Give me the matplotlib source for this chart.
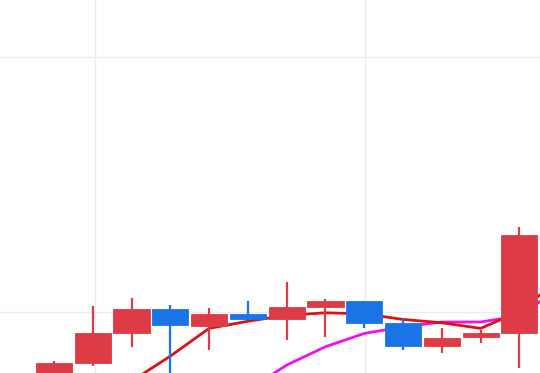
import numpy as np
import matplotlib.pyplot as plt

# candle data (index 0 is the leftmost candle in view)
opens = [3269.4, 3279.9, 3291.6, 3301.3, 3294.4, 3299.3, 3297.3,
         3301.8, 3304.2, 3295.6, 3286.7, 3290.1, 3291.6, 3305.9]
closes = [3279.9, 3291.6, 3301.2, 3294.8, 3299.3, 3297.1, 3301.8,
          3304.2, 3295.6, 3286.7, 3289.8, 3291.6, 3330.3, 3373.7]
highs = [3280.9, 3302.4, 3305.4, 3302.7, 3301.6, 3304.3, 3311.9,
         3305.0, 3304.3, 3297.8, 3293.6, 3292.9, 3333.2, 3377.3]
lows = [3267.5, 3278.8, 3286.4, 3265.5, 3285.1, 3296.9, 3289.0,
        3290.1, 3293.8, 3285.0, 3283.8, 3287.7, 3277.9, 3304.7]

ma_short = [np.nan, np.nan, 3272.9, 3282.7, 3293.6, 3296.4, 3298.7,
            3299.7, 3299.3, 3297.1, 3295.8, 3293.6, 3300.2, 3312.5]
ma_long = [np.nan, np.nan, np.nan, np.nan, np.nan, 3269.4, 3279.2,
           3286.4, 3291.6, 3294.2, 3296.1, 3296.1, 3298.5, 3309.1]

grid_x = [1.056, 8.01]
grid_y = [3300, 3400]

up_color = '#dd3c46'
down_color = '#1a74e6'

x = np.arange(len(opens))
opens = np.array(opens)
closes = np.array(closes)
colors = [up_color if c >= o else down_color for o, c in zip(opens, closes)]

fig = plt.figure(figsize=(5.4, 3.73), dpi=100)
ax = fig.add_axes([0, 0, 1, 1])

# moving averages sit behind the candles
ax.plot(x, ma_long, color='#ee11ee', linewidth=2, zorder=2)
ax.plot(x, ma_short, color='#dd1111', linewidth=2, zorder=2.5)

# wicks
ax.vlines(x, lows, highs, colors=colors, linewidth=1.6, zorder=3)
# bodies
bottoms = np.minimum(opens, closes)
heights = np.abs(closes - opens)
ax.bar(x, heights, bottom=bottoms, width=0.93, color=colors,
       edgecolor=colors, linewidth=0.6, zorder=4)

ax.set_xlim(-1.39, 12.53)
ax.set_ylim(3276.1, 3422.35)
ax.set_xticks(grid_x)
ax.set_yticks(grid_y)
ax.grid(True, color='#ececec', linewidth=1)
ax.set_axisbelow(True)
ax.tick_params(length=0, labelbottom=False, labelleft=False)
for s in ax.spines.values():
    s.set_visible(False)

fig.savefig('out.png', dpi=100)
